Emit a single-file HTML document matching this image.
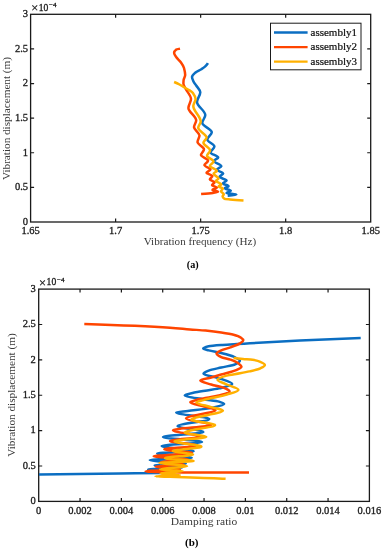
<!DOCTYPE html>
<html><head><meta charset="utf-8"><title>Figure</title>
<style>
html,body{margin:0;padding:0;background:#fff;}
body{width:385px;height:550px;overflow:hidden;}
svg{display:block;font-family:"Liberation Serif","DejaVu Serif",serif;}
.c{fill:none;stroke-width:2.5;stroke-linecap:butt;stroke-linejoin:round;}
</style></head><body>
<svg width="385" height="550" viewBox="0 0 385 550">
<rect width="385" height="550" fill="#fff"/>
<rect x="30.60" y="14.30" width="340.10" height="207.70" fill="#fff" stroke="#1a1a1a" stroke-width="1.3"/>
<path d="M115.62 222.00v-3.50M115.62 14.30v3.50M200.65 222.00v-3.50M200.65 14.30v3.50M285.68 222.00v-3.50M285.68 14.30v3.50M30.60 187.38h3.50M370.70 187.38h-3.50M30.60 152.77h3.50M370.70 152.77h-3.50M30.60 118.15h3.50M370.70 118.15h-3.50M30.60 83.53h3.50M370.70 83.53h-3.50M30.60 48.92h3.50M370.70 48.92h-3.50" stroke="#1a1a1a" stroke-width="1.2" fill="none"/>
<text x="30.60" y="233.60" font-size="10.50" text-anchor="middle" font-weight="normal" fill="#1a1a1a" stroke="#1a1a1a" stroke-width="0.3">1.65</text>
<text x="115.62" y="233.60" font-size="10.50" text-anchor="middle" font-weight="normal" fill="#1a1a1a" stroke="#1a1a1a" stroke-width="0.3">1.7</text>
<text x="200.65" y="233.60" font-size="10.50" text-anchor="middle" font-weight="normal" fill="#1a1a1a" stroke="#1a1a1a" stroke-width="0.3">1.75</text>
<text x="285.68" y="233.60" font-size="10.50" text-anchor="middle" font-weight="normal" fill="#1a1a1a" stroke="#1a1a1a" stroke-width="0.3">1.8</text>
<text x="370.70" y="233.60" font-size="10.50" text-anchor="middle" font-weight="normal" fill="#1a1a1a" stroke="#1a1a1a" stroke-width="0.3">1.85</text>
<text x="28.10" y="224.80" font-size="10.50" text-anchor="end" font-weight="normal" fill="#1a1a1a" stroke="#1a1a1a" stroke-width="0.3">0</text>
<text x="28.10" y="190.18" font-size="10.50" text-anchor="end" font-weight="normal" fill="#1a1a1a" stroke="#1a1a1a" stroke-width="0.3">0.5</text>
<text x="28.10" y="155.57" font-size="10.50" text-anchor="end" font-weight="normal" fill="#1a1a1a" stroke="#1a1a1a" stroke-width="0.3">1</text>
<text x="28.10" y="120.95" font-size="10.50" text-anchor="end" font-weight="normal" fill="#1a1a1a" stroke="#1a1a1a" stroke-width="0.3">1.5</text>
<text x="28.10" y="86.33" font-size="10.50" text-anchor="end" font-weight="normal" fill="#1a1a1a" stroke="#1a1a1a" stroke-width="0.3">2</text>
<text x="28.10" y="51.72" font-size="10.50" text-anchor="end" font-weight="normal" fill="#1a1a1a" stroke="#1a1a1a" stroke-width="0.3">2.5</text>
<text x="28.10" y="17.10" font-size="10.50" text-anchor="end" font-weight="normal" fill="#1a1a1a" stroke="#1a1a1a" stroke-width="0.3">3</text>
<text x="31.20" y="12.20" font-size="12.4" fill="#1a1a1a" stroke="#1a1a1a" stroke-width="0.3">×</text><text x="38.70" y="10.90" font-size="10.2" fill="#1a1a1a" textLength="9.6" lengthAdjust="spacingAndGlyphs" stroke="#1a1a1a" stroke-width="0.3">10</text><text x="49.10" y="7.40" font-size="6.8" fill="#1a1a1a" textLength="7.6" lengthAdjust="spacingAndGlyphs" stroke="#1a1a1a" stroke-width="0.3">−4</text>
<text x="200.00" y="245.00" font-size="10.40" text-anchor="middle" font-weight="normal" fill="#3a3a3a" textLength="112.5" lengthAdjust="spacingAndGlyphs">Vibration frequency (Hz)</text>
<text transform="translate(10.3 118.5) rotate(-90)" font-size="10.4" text-anchor="middle" fill="#3a3a3a" textLength="123" lengthAdjust="spacingAndGlyphs">Vibration displacement (m)</text>
<text x="192.70" y="268.10" font-size="10.20" text-anchor="middle" font-weight="bold" fill="#000" >(a)</text>
<g class="c">
<path d="M207.90 63.10C207.41 64.13 206.52 65.17 205.50 66.20C204.51 67.20 202.95 68.20 201.40 69.20C199.70 70.30 196.72 71.40 195.50 72.50C193.84 74.00 192.00 75.50 192.00 77.00C192.00 78.50 192.83 80.00 193.50 81.50C194.10 82.83 195.35 84.17 196.20 85.50C197.65 87.77 200.30 90.03 200.30 92.30C200.30 95.53 197.00 98.77 197.00 102.00C197.00 106.33 205.30 110.67 205.30 115.00C205.30 117.67 202.30 120.33 202.30 123.00C202.30 126.10 211.80 129.20 211.80 132.30C211.80 134.70 207.30 137.10 207.30 139.50C207.30 141.87 214.40 144.23 214.40 146.60C214.40 148.57 210.50 150.53 210.50 152.50C210.50 154.13 218.20 155.77 218.20 157.40C218.20 158.60 214.00 159.80 214.00 161.00C214.00 162.77 221.40 164.53 221.40 166.30C221.40 167.40 216.90 168.50 216.90 169.60C216.90 170.93 223.20 172.27 223.20 173.60C223.20 174.67 219.50 175.73 219.50 176.80C219.50 178.07 226.60 179.33 226.60 180.60C226.60 181.53 222.80 182.47 222.80 183.40C222.80 184.33 228.60 185.27 228.60 186.20C228.60 186.90 224.70 187.60 224.70 188.30C224.70 189.13 230.80 189.97 230.80 190.80C230.80 191.50 226.50 192.20 226.50 192.90C226.50 193.47 236.40 194.03 236.40 194.60C236.40 194.97 232.58 195.33 227.70 195.70" stroke="#0B6EC2"/>
<path d="M180.00 48.70C178.55 49.00 176.69 49.30 176.30 49.60C174.82 50.73 174.10 51.87 174.10 53.00C174.10 54.50 175.49 56.00 176.50 57.50C177.51 59.00 179.54 60.50 180.60 62.00C182.01 64.00 183.47 66.00 184.00 68.00C184.62 70.33 185.20 72.67 185.20 75.00C185.20 76.67 183.76 78.33 183.60 80.00C183.49 81.17 183.40 82.33 183.40 83.50C183.40 85.17 184.73 86.83 185.50 88.50C187.11 92.00 191.00 95.50 191.00 99.00C191.00 101.97 188.40 104.93 188.40 107.90C188.40 112.03 196.20 116.17 196.20 120.30C196.20 122.57 194.00 124.83 194.00 127.10C194.00 129.93 199.50 132.77 199.50 135.60C199.50 137.77 197.50 139.93 197.50 142.10C197.50 144.47 204.00 146.83 204.00 149.20C204.00 151.17 201.00 153.13 201.00 155.10C201.00 156.97 208.10 158.83 208.10 160.70C208.10 162.17 204.40 163.63 204.40 165.10C204.40 166.57 210.50 168.03 210.50 169.50C210.50 170.60 206.50 171.70 206.50 172.80C206.50 173.90 212.40 175.00 212.40 176.10C212.40 177.20 209.80 178.30 209.80 179.40C209.80 180.33 214.60 181.27 214.60 182.20C214.60 183.20 212.00 184.20 212.00 185.20C212.00 186.00 217.00 186.80 217.00 187.60C217.00 188.37 212.40 189.13 212.40 189.90C212.40 190.50 218.00 191.10 218.00 191.70C218.00 192.10 215.20 192.50 212.80 192.90C210.40 193.30 206.08 193.70 201.10 194.10" stroke="#FF4500"/>
<path d="M174.10 82.00C176.09 82.83 177.93 83.67 179.50 84.50C181.39 85.50 182.77 86.50 184.50 87.50C185.94 88.33 187.74 89.17 189.00 90.00C190.52 91.00 192.19 92.00 192.90 93.00C194.31 95.00 195.60 97.00 195.60 99.00C195.60 101.33 193.30 103.67 193.30 106.00C193.30 111.20 200.70 116.40 200.70 121.60C200.70 123.67 198.20 125.73 198.20 127.80C198.20 131.03 206.60 134.27 206.60 137.50C206.60 139.23 203.40 140.97 203.40 142.70C203.40 145.30 210.10 147.90 210.10 150.50C210.10 152.23 207.00 153.97 207.00 155.70C207.00 157.67 213.60 159.63 213.60 161.60C213.60 163.07 209.90 164.53 209.90 166.00C209.90 167.63 216.80 169.27 216.80 170.90C216.80 171.80 213.60 172.70 213.60 173.60C213.60 175.27 218.60 176.93 218.60 178.60C218.60 179.37 215.90 180.13 215.90 180.90C215.90 182.10 221.40 183.30 221.40 184.50C221.40 185.13 218.60 185.77 218.60 186.40C218.60 187.13 222.90 187.87 222.90 188.60C222.90 189.47 221.00 190.33 221.00 191.20C221.00 192.23 223.80 193.27 223.80 194.30C223.80 195.00 222.60 195.70 222.60 196.40C222.60 197.20 223.19 198.00 224.60 198.80C225.01 199.03 227.83 199.27 230.00 199.50C233.42 199.87 237.98 200.23 243.50 200.60" stroke="#FFB000"/>
</g>
<rect x="270.5" y="23.2" width="90.5" height="46.6" fill="#fff" stroke="#1a1a1a" stroke-width="1"/>
<path d="M274 32.50H307.6" stroke="#0B6EC2" stroke-width="2.3" fill="none"/>
<text x="310.5" y="35.60" font-size="10.2" fill="#111" stroke="#111" stroke-width="0.2" textLength="46.5" lengthAdjust="spacingAndGlyphs">assembly1</text>
<path d="M274 47.10H307.6" stroke="#FF4500" stroke-width="2.3" fill="none"/>
<text x="310.5" y="50.20" font-size="10.2" fill="#111" stroke="#111" stroke-width="0.2" textLength="46.5" lengthAdjust="spacingAndGlyphs">assembly2</text>
<path d="M274 61.70H307.6" stroke="#FFB000" stroke-width="2.3" fill="none"/>
<text x="310.5" y="64.80" font-size="10.2" fill="#111" stroke="#111" stroke-width="0.2" textLength="46.5" lengthAdjust="spacingAndGlyphs">assembly3</text>
<rect x="38.70" y="289.10" width="330.70" height="212.30" fill="#fff" stroke="#1a1a1a" stroke-width="1.3"/>
<path d="M80.04 501.40v-3.50M80.04 289.10v3.50M121.38 501.40v-3.50M121.38 289.10v3.50M162.71 501.40v-3.50M162.71 289.10v3.50M204.05 501.40v-3.50M204.05 289.10v3.50M245.39 501.40v-3.50M245.39 289.10v3.50M286.72 501.40v-3.50M286.72 289.10v3.50M328.06 501.40v-3.50M328.06 289.10v3.50M38.70 466.02h3.50M369.40 466.02h-3.50M38.70 430.63h3.50M369.40 430.63h-3.50M38.70 395.25h3.50M369.40 395.25h-3.50M38.70 359.87h3.50M369.40 359.87h-3.50M38.70 324.48h3.50M369.40 324.48h-3.50" stroke="#1a1a1a" stroke-width="1.2" fill="none"/>
<text x="38.70" y="513.70" font-size="10.50" text-anchor="middle" font-weight="normal" fill="#1a1a1a" stroke="#1a1a1a" stroke-width="0.3">0</text>
<text x="80.04" y="513.70" font-size="10.50" text-anchor="middle" font-weight="normal" fill="#1a1a1a" stroke="#1a1a1a" stroke-width="0.3">0.002</text>
<text x="121.38" y="513.70" font-size="10.50" text-anchor="middle" font-weight="normal" fill="#1a1a1a" stroke="#1a1a1a" stroke-width="0.3">0.004</text>
<text x="162.71" y="513.70" font-size="10.50" text-anchor="middle" font-weight="normal" fill="#1a1a1a" stroke="#1a1a1a" stroke-width="0.3">0.006</text>
<text x="204.05" y="513.70" font-size="10.50" text-anchor="middle" font-weight="normal" fill="#1a1a1a" stroke="#1a1a1a" stroke-width="0.3">0.008</text>
<text x="245.39" y="513.70" font-size="10.50" text-anchor="middle" font-weight="normal" fill="#1a1a1a" stroke="#1a1a1a" stroke-width="0.3">0.01</text>
<text x="286.72" y="513.70" font-size="10.50" text-anchor="middle" font-weight="normal" fill="#1a1a1a" stroke="#1a1a1a" stroke-width="0.3">0.012</text>
<text x="328.06" y="513.70" font-size="10.50" text-anchor="middle" font-weight="normal" fill="#1a1a1a" stroke="#1a1a1a" stroke-width="0.3">0.014</text>
<text x="369.40" y="513.70" font-size="10.50" text-anchor="middle" font-weight="normal" fill="#1a1a1a" stroke="#1a1a1a" stroke-width="0.3">0.016</text>
<text x="35.80" y="504.20" font-size="10.50" text-anchor="end" font-weight="normal" fill="#1a1a1a" stroke="#1a1a1a" stroke-width="0.3">0</text>
<text x="35.80" y="468.82" font-size="10.50" text-anchor="end" font-weight="normal" fill="#1a1a1a" stroke="#1a1a1a" stroke-width="0.3">0.5</text>
<text x="35.80" y="433.43" font-size="10.50" text-anchor="end" font-weight="normal" fill="#1a1a1a" stroke="#1a1a1a" stroke-width="0.3">1</text>
<text x="35.80" y="398.05" font-size="10.50" text-anchor="end" font-weight="normal" fill="#1a1a1a" stroke="#1a1a1a" stroke-width="0.3">1.5</text>
<text x="35.80" y="362.67" font-size="10.50" text-anchor="end" font-weight="normal" fill="#1a1a1a" stroke="#1a1a1a" stroke-width="0.3">2</text>
<text x="35.80" y="327.28" font-size="10.50" text-anchor="end" font-weight="normal" fill="#1a1a1a" stroke="#1a1a1a" stroke-width="0.3">2.5</text>
<text x="35.80" y="291.90" font-size="10.50" text-anchor="end" font-weight="normal" fill="#1a1a1a" stroke="#1a1a1a" stroke-width="0.3">3</text>
<text x="39.10" y="286.70" font-size="12.4" fill="#1a1a1a" stroke="#1a1a1a" stroke-width="0.3">×</text><text x="46.60" y="285.40" font-size="10.2" fill="#1a1a1a" textLength="9.6" lengthAdjust="spacingAndGlyphs" stroke="#1a1a1a" stroke-width="0.3">10</text><text x="57.00" y="281.90" font-size="6.8" fill="#1a1a1a" textLength="7.6" lengthAdjust="spacingAndGlyphs" stroke="#1a1a1a" stroke-width="0.3">−4</text>
<text x="204.00" y="524.80" font-size="10.40" text-anchor="middle" font-weight="normal" fill="#3a3a3a" textLength="66.6" lengthAdjust="spacingAndGlyphs">Damping ratio</text>
<text transform="translate(15.3 395.0) rotate(-90)" font-size="10.4" text-anchor="middle" fill="#3a3a3a" textLength="123.5" lengthAdjust="spacingAndGlyphs">Vibration displacement (m)</text>
<text x="191.80" y="545.90" font-size="11.00" text-anchor="middle" font-weight="bold" fill="#000" >(b)</text>
<g class="c">
<path d="M360.70 338.10C338.16 338.93 317.54 339.77 300.00 340.60C281.06 341.50 265.54 342.40 250.00 343.30C245.39 343.57 241.57 343.83 236.80 344.10C232.03 344.37 224.73 344.63 221.20 344.90C215.46 345.33 210.51 345.77 208.70 346.20C205.64 346.93 203.20 347.67 203.20 348.40C203.20 349.07 206.39 349.73 208.70 350.40C211.70 351.27 217.69 352.13 221.20 353.00C226.06 354.20 231.07 355.40 233.60 356.60C236.56 358.00 239.90 359.40 239.90 360.80C239.90 362.00 237.66 363.20 235.20 364.40C233.08 365.43 225.60 366.47 221.20 367.50C216.80 368.53 211.15 369.57 208.70 370.60C206.25 371.63 203.50 372.67 203.50 373.70C203.50 375.20 214.85 376.70 219.00 378.20C224.34 380.13 232.20 382.07 232.20 384.00C232.20 385.47 224.91 386.93 219.00 388.40C213.76 389.70 201.20 391.00 195.60 392.30C191.01 393.37 184.70 394.43 184.70 395.50C184.70 396.77 196.08 398.03 203.40 399.30C207.83 400.07 216.54 400.83 219.00 401.60C221.67 402.43 224.20 403.27 224.20 404.10C224.20 405.37 217.24 406.63 211.20 407.90C206.27 408.93 195.71 409.97 187.80 411.00C183.97 411.50 176.20 412.00 176.20 412.50C176.20 414.67 209.30 416.83 209.30 419.00C209.30 421.40 177.50 423.80 177.50 426.20C177.50 428.13 203.40 430.07 203.40 432.00C203.40 433.70 163.00 435.40 163.00 437.10C163.00 438.77 202.00 440.43 202.00 442.10C202.00 443.40 161.70 444.70 161.70 446.00C161.70 447.73 193.60 449.47 193.60 451.20C193.60 451.93 157.20 452.67 157.20 453.40C157.20 454.83 191.70 456.27 191.70 457.70C191.70 458.47 149.80 459.23 149.80 460.00C149.80 461.20 185.80 462.40 185.80 463.60C185.80 464.27 154.60 464.93 154.60 465.60C154.60 466.23 182.00 466.87 182.00 467.50C182.00 468.17 148.20 468.83 148.20 469.50C148.20 470.13 178.00 470.77 178.00 471.40C178.00 471.93 172.11 472.47 160.00 473.00C156.21 473.17 133.41 473.33 120.00 473.50C93.19 473.83 66.22 474.17 39.00 474.50" stroke="#0B6EC2"/>
<path d="M84.30 324.00C122.50 325.23 151.50 326.47 170.00 327.70C178.50 328.27 182.98 328.83 190.00 329.40C194.95 329.80 201.50 330.20 205.60 330.60C212.08 331.23 217.05 331.87 221.20 332.50C226.22 333.27 230.89 334.03 233.60 334.80C236.78 335.70 239.33 336.60 240.60 337.50C241.92 338.43 243.30 339.37 243.30 340.30C243.30 341.33 241.44 342.37 239.90 343.40C237.97 344.70 233.99 346.00 230.50 347.30C227.73 348.33 223.28 349.37 221.20 350.40C219.12 351.43 216.50 352.47 216.50 353.50C216.50 354.70 218.85 355.90 221.20 357.10C222.90 357.97 228.13 358.83 230.50 359.70C233.78 360.90 236.76 362.10 238.30 363.30C239.80 364.47 241.50 365.63 241.50 366.80C241.50 367.83 238.91 368.87 236.80 369.90C233.66 371.43 226.35 372.97 221.20 374.50C217.84 375.50 214.62 376.50 211.20 377.50C207.66 378.53 200.30 379.57 200.30 380.60C200.30 381.90 207.11 383.20 211.20 384.50C215.29 385.80 222.60 387.10 225.20 388.40C227.27 389.43 229.60 390.47 229.60 391.50C229.60 392.80 223.64 394.10 219.00 395.40C214.36 396.70 203.47 398.00 198.70 399.30C195.15 400.27 190.30 401.23 190.30 402.20C190.30 403.57 198.98 404.93 203.40 406.30C207.39 407.53 215.50 408.77 215.50 410.00C215.50 412.83 186.00 415.67 186.00 418.50C186.00 420.63 211.20 422.77 211.20 424.90C211.20 426.70 173.00 428.50 173.00 430.30C173.00 432.40 200.20 434.50 200.20 436.60C200.20 438.07 170.00 439.53 170.00 441.00C170.00 442.50 197.00 444.00 197.00 445.50C197.00 446.77 164.30 448.03 164.30 449.30C164.30 450.53 192.00 451.77 192.00 453.00C192.00 454.10 153.70 455.20 153.70 456.30C153.70 457.37 188.00 458.43 188.00 459.50C188.00 460.33 161.00 461.17 161.00 462.00C161.00 462.83 184.00 463.67 184.00 464.50C184.00 465.23 155.50 465.97 155.50 466.70C155.50 467.53 180.00 468.37 180.00 469.20C180.00 469.93 145.60 470.67 145.60 471.40C145.60 471.63 155.70 471.87 165.00 472.10C168.99 472.20 172.35 472.30 183.00 472.40C190.10 472.47 219.80 472.53 249.00 472.60" stroke="#FF4500"/>
<path d="M233.60 357.90C236.53 358.23 239.68 358.57 243.00 358.90C245.99 359.20 250.69 359.50 252.50 359.80C256.53 360.47 258.82 361.13 260.30 361.80C262.60 362.83 264.90 363.87 264.90 364.90C264.90 366.03 262.53 367.17 260.30 368.30C258.27 369.33 253.71 370.37 249.40 371.40C246.76 372.03 243.36 372.67 240.00 373.30C235.94 374.07 229.40 374.83 226.80 375.60C222.17 376.97 217.50 378.33 217.50 379.70C217.50 381.30 223.54 382.90 226.80 384.50C230.46 386.30 238.40 388.10 238.40 389.90C238.40 391.47 231.66 393.03 226.80 394.60C221.11 396.43 209.76 398.27 203.40 400.10C200.74 400.87 196.40 401.63 196.40 402.40C196.40 403.97 206.11 405.53 211.20 407.10C214.99 408.27 222.90 409.43 222.90 410.60C222.90 413.63 191.20 416.67 191.20 419.70C191.20 421.43 215.10 423.17 215.10 424.90C215.10 427.50 184.70 430.10 184.70 432.70C184.70 434.07 206.30 435.43 206.30 436.80C206.30 438.30 174.50 439.80 174.50 441.30C174.50 443.10 201.40 444.90 201.40 446.70C201.40 448.20 172.70 449.70 172.70 451.20C172.70 452.30 193.00 453.40 193.00 454.50C193.00 455.73 165.00 456.97 165.00 458.20C165.00 459.13 193.60 460.07 193.60 461.00C193.60 461.67 159.40 462.33 159.40 463.00C159.40 464.07 187.10 465.13 187.10 466.20C187.10 467.27 160.00 468.33 160.00 469.40C160.00 469.93 182.60 470.47 182.60 471.00C182.60 471.80 160.50 472.60 160.50 473.40C160.50 473.93 180.00 474.47 180.00 475.00C180.00 475.43 155.30 475.87 155.30 476.30C155.30 476.47 164.66 476.63 170.00 476.80C174.27 476.93 179.90 477.07 184.00 477.20C200.40 477.73 215.57 478.27 225.60 478.80" stroke="#FFB000"/>
</g>
</svg></body></html>
